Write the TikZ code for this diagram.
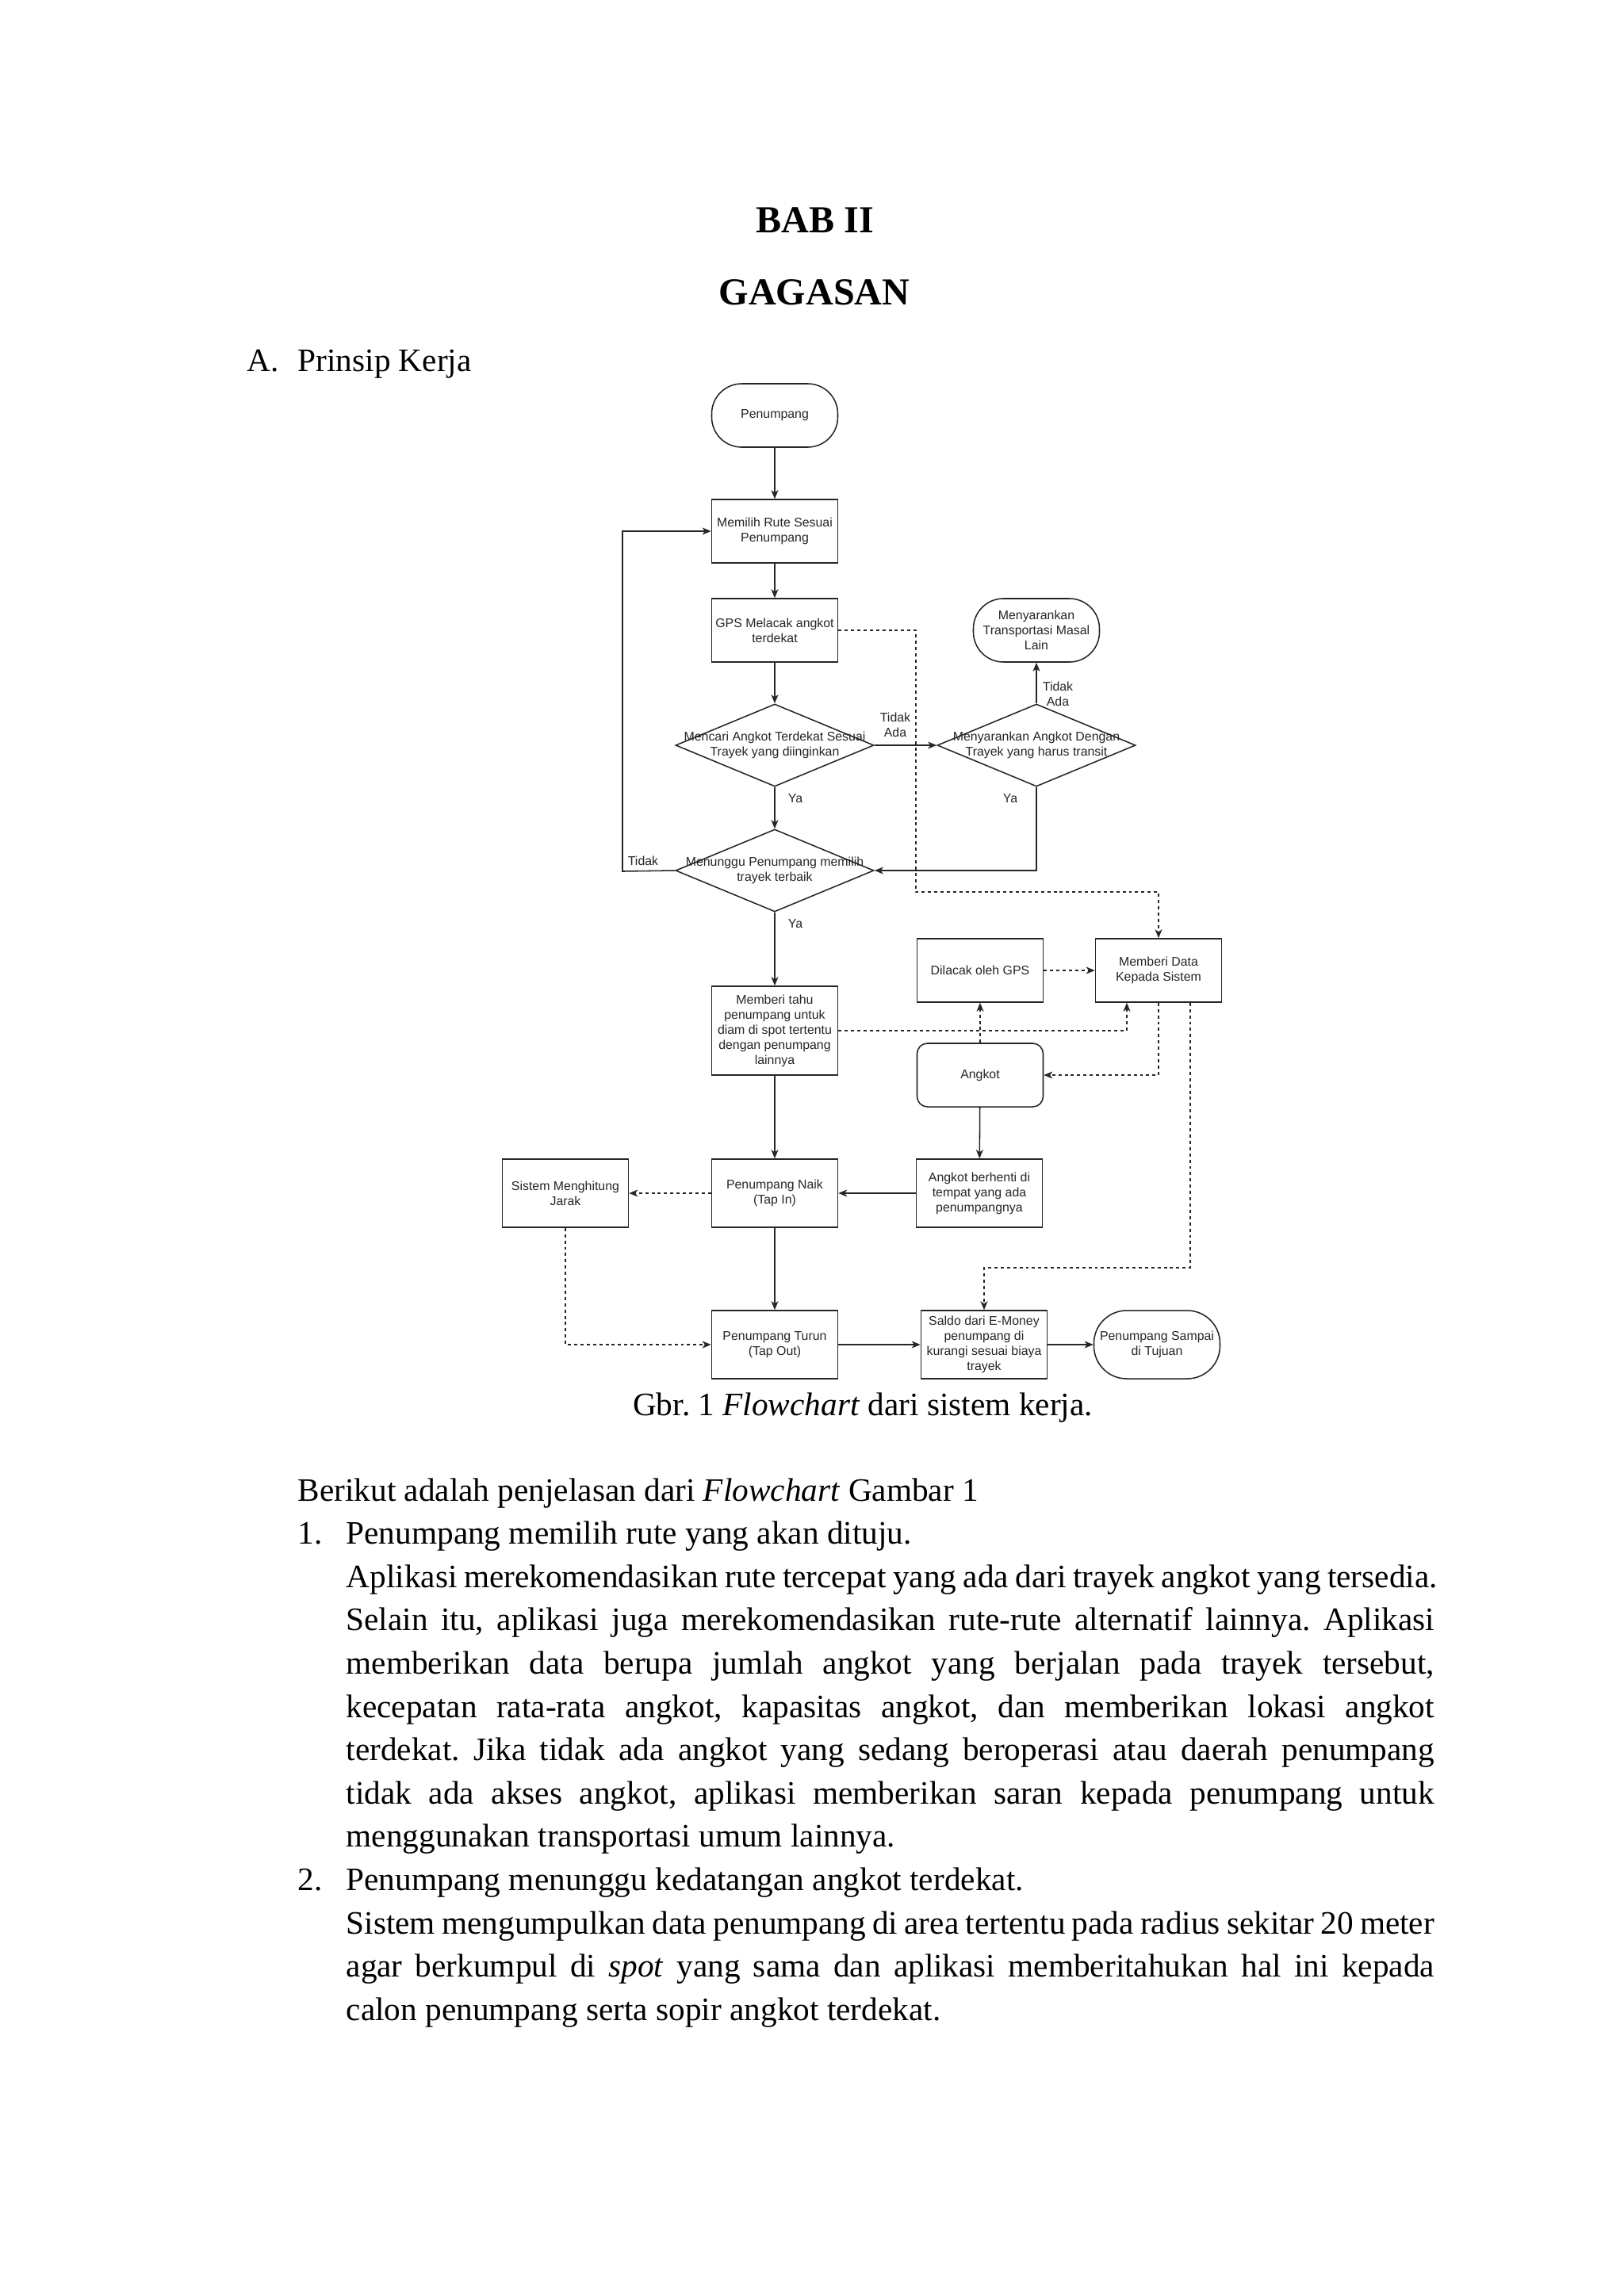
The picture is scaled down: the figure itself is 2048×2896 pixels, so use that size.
\documentclass[tikz,border=0pt]{standalone}
\usepackage{fontspec}
\setmainfont{Liberation Serif}
\newfontfamily\fcfont{Liberation Sans}
\usetikzlibrary{shapes.geometric,arrows.meta,calc}
\tikzset{
  fc/.style={font={\fcfont\fontsize{4.62bp}{5.54bp}\selectfont}, text=black!85, align=center},
  proc/.style={fc, draw=black!85, line width=0.45bp, rectangle, inner sep=0pt,
    minimum width=46.22bp, minimum height=23.26bp},
  procb/.style={proc, minimum height=25bp},
  term/.style={proc, rounded corners=11bp},
  rbox/.style={proc, rounded corners=3.8bp},
  dia/.style={draw=black!85, line width=0.45bp, diamond, inner sep=0pt, aspect=1,
    minimum width=72.68bp, minimum height=30.23bp},
  dtext/.style={fc, inner sep=0pt},
  lbl/.style={fc, inner sep=0pt},
  arr/.style={draw=black!85, line width=0.45bp, -{Stealth[length=3.2bp,width=2.6bp,inset=0.9bp]}},
  darr/.style={arr, dash pattern=on 1.15bp off 1.15bp},
  body/.style={anchor=base west, inner sep=0pt, font={\fontsize{12bp}{15.87bp}\selectfont}},
  head/.style={anchor=base, inner sep=0pt, font={\bfseries\fontsize{14bp}{16bp}\selectfont}},
}
\newcommand\jline[1]{\makebox[398.9bp][s]{#1}}
\frenchspacing
\begin{document}
\begin{tikzpicture}[x=0.29071bp, y=-0.29071bp]
\useasboundingbox (0,0) rectangle (2048,2896);
\fill[white] (0,0) rectangle (2048,2896);

% headings
\node[head] (h1) at (1028,293) {BAB II};
\node[head] (h2) at (1027,384) {GAGASAN};
\node[body] (secA) at (311,468) {A.};
\node[body] (secAt) at (375,468) {Prinsip Kerja};

% flowchart nodes
\node[term] (pen) at (977,524) {Penumpang};
\node[proc] (memilih) at (977,670) {Memilih Rute Sesuai\\Penumpang};
\node[proc] (gps) at (977,795) {GPS Melacak angkot\\terdekat};
\node[term] (transp) at (1307,795) {Menyarankan\\Transportasi Masal\\Lain};
\node[dia] (d1) at (977,940) {};
\node[dtext] (d1t) at (d1.center) {Mencari Angkot Terdekat Sesuai\\Trayek yang diinginkan};
\node[dia] (d2) at (1307,940) {};
\node[dtext] (d2t) at (d2.center) {Menyarankan Angkot Dengan\\Trayek yang harus transit};
\node[dia] (d3) at (977,1098) {};
\node[dtext] (d3t) at (d3.center) {Menunggu Penumpang memilih\\trayek terbaik};
\node[proc] (dilacak) at (1236,1224) {Dilacak oleh GPS};
\node[proc] (memdata) at (1461,1224) {Memberi Data\\Kepada Sistem};
\node[proc, minimum height=32.56bp] (tahu) at (977,1300) {Memberi tahu\\penumpang untuk\\diam di spot tertentu\\dengan penumpang\\lainnya};
\node[rbox] (angkot) at (1236,1356) {Angkot};
\node[procb] (sistem) at (713,1505) {Sistem Menghitung\\Jarak};
\node[procb] (naik) at (977,1505) {Penumpang Naik\\(Tap In)};
\node[procb] (berhenti) at (1235,1505) {Angkot berhenti di\\tempat yang ada\\penumpangnya};
\node[procb] (turun) at (977,1696) {Penumpang Turun\\(Tap Out)};
\node[procb] (saldo) at (1241,1696) {Saldo dari E-Money\\penumpang di\\kurangi sesuai biaya\\trayek};
\node[procb, rounded corners=12bp] (sampai) at (1459,1696) {Penumpang Sampai\\di Tujuan};

% helper coordinates
\coordinate (lp) at (785,1099);
\coordinate (c1) at (1155,1125);

% solid connectors
\draw[arr] (pen) -- (memilih);
\draw[arr] (memilih) -- (gps);
\draw[arr] (gps) -- (d1);
\draw[arr] (d1.east) -- (d2.west);
\draw[arr] (d1.south) -- (d3.north);
\draw[arr] (d2.north) -- (transp.south);
\draw[arr] (d2.south) |- (d3.east);
\draw[arr] (d3.west) -- (lp) |- (memilih.west);
\draw[arr] (d3.south) -- (tahu.north);
\draw[arr] (tahu) -- (naik);
\draw[arr] (angkot) -- (berhenti);
\draw[arr] (berhenti) -- (naik);
\draw[arr] (naik) -- (turun);
\draw[arr] (turun) -- (saldo);
\draw[arr] (saldo) -- (sampai);

% dashed connectors
\draw[darr] (gps.east) -| (c1) -| (memdata.north);
\draw[darr] (dilacak) -- (memdata);
\draw[darr] (angkot) -- (dilacak);
\draw[darr] (tahu.east) -| ($(memdata.south)+(-40,0)$);
\draw[darr] (memdata.south) |- (angkot.east);
\draw[darr] ($(memdata.south)+(40,0)$) |- ($(saldo.north)+(0,-53)$) -- (saldo.north);
\draw[darr] (naik) -- (sistem);
\draw[darr] (sistem.south) |- (turun.west);

% connector labels
\node[lbl] (l1) at (1129,914) {Tidak\\Ada};
\node[lbl] (l2) at (1003,1007) {Ya};
\node[lbl] (l3) at (1334,875) {Tidak\\Ada};
\node[lbl] (l4) at (1274,1007) {Ya};
\node[lbl] (l5) at (811,1086) {Tidak};
\node[lbl] (l6) at (1003,1165) {Ya};

% caption
\node[anchor=base, inner sep=0pt, font={\fontsize{12bp}{15.87bp}\selectfont}] (cap) at (1088,1785) {Gbr. 1 \textit{Flowchart} dari sistem kerja.};

% body text
\node[body] (t0) at (375,1893) {Berikut adalah penjelasan dari \textit{Flowchart} Gambar 1};
\node[body] (n1) at (375,1947.6) {1.};
\node[body] (t1) at (436,1947.6) {Penumpang memilih rute yang akan dituju.};
\node[body] (t2) at (436,2002.2) {\makebox[400bp][s]{Aplikasi merekomendasikan rute tercepat yang ada dari trayek angkot yang tersedia.}};
\node[body] (t3) at (436,2056.8) {\jline{Selain itu, aplikasi juga merekomendasikan rute-rute alternatif lainnya. Aplikasi}};
\node[body] (t4) at (436,2111.4) {\jline{memberikan data berupa jumlah angkot yang berjalan pada trayek tersebut,}};
\node[body] (t5) at (436,2166) {\jline{kecepatan rata-rata angkot, kapasitas angkot, dan memberikan lokasi angkot}};
\node[body] (t6) at (436,2220.6) {\jline{terdekat. Jika tidak ada angkot yang sedang beroperasi atau daerah penumpang}};
\node[body] (t7) at (436,2275.2) {\jline{tidak ada akses angkot, aplikasi memberikan saran kepada penumpang untuk}};
\node[body] (t8) at (436,2329.8) {menggunakan transportasi umum lainnya.};
\node[body] (n2) at (375,2384.4) {2.};
\node[body] (t9) at (436,2384.4) {Penumpang menunggu kedatangan angkot terdekat.};
\node[body] (t10) at (436,2439) {\jline{Sistem mengumpulkan data penumpang di area tertentu pada radius sekitar 20 meter}};
\node[body] (t11) at (436,2493.6) {\jline{agar berkumpul di \textit{spot} yang sama dan aplikasi memberitahukan hal ini kepada}};
\node[body] (t12) at (436,2548.2) {calon penumpang serta sopir angkot terdekat.};
\end{tikzpicture}
\end{document}
